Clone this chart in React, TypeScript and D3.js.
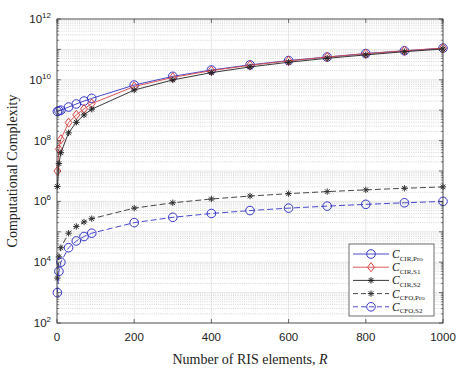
import React from "react";
import * as d3 from "d3";

// RIS elements
const R = [1, 5, 10, 30, 50, 70, 90, 200, 300, 400, 500, 600, 700, 800, 900, 1000];

// complexities
const cirPro = [9.1e8, 9.6e8, 1.0e9, 1.27e9, 1.6e9, 2.0e9, 2.45e9, 6.7e9, 1.3e10, 2.1e10, 3.1e10, 4.3e10, 5.6e10, 7.3e10, 9.0e10, 1.1e11];
const cirS1 = [1.0e7, 5.2e7, 1.1e8, 3.9e8, 7.0e8, 1.1e9, 1.65e9, 6.0e9, 1.2e10, 2.0e10, 3.0e10, 4.2e10, 5.6e10, 7.2e10, 9.0e10, 1.1e11];
const cirS2 = [3.1e6, 1.75e7, 4.0e7, 1.8e8, 4.0e8, 7.0e8, 1.08e9, 4.6e9, 9.9e9, 1.72e10, 2.65e10, 3.78e10, 5.1e10, 6.6e10, 8.4e10, 1.03e11];
const cfoPro = [3e3, 1.5e4, 3e4, 9e4, 1.5e5, 2.1e5, 2.7e5, 6e5, 9e5, 1.2e6, 1.5e6, 1.8e6, 2.1e6, 2.4e6, 2.7e6, 3e6];
const cfoS2 = [1e3, 5e3, 1e4, 3e4, 5e4, 7e4, 9e4, 2e5, 3e5, 4e5, 5e5, 6e5, 7e5, 8e5, 9e5, 1e6];

const xTicks = [0, 200, 400, 600, 800, 1000];
const yExps = [2, 4, 6, 8, 10, 12];

const series = [
  { sub: "CIR,Pro", data: cirPro, color: "#3535c8", marker: "circle", dash: null },
  { sub: "CIR,S1", data: cirS1, color: "#d84848", marker: "diamond", dash: null },
  { sub: "CIR,S2", data: cirS2, color: "#222222", marker: "star", dash: null },
  { sub: "CFO,Pro", data: cfoPro, color: "#333333", marker: "star", dash: "6,3" },
  { sub: "CFO,S2", data: cfoS2, color: "#3535c8", marker: "circle", dash: "6,3" },
];

const W = 474, H = 373;
const left = 57, right = 443, top = 19, bottom = 323;

function Marker({ type, x, y, color }: { type: string; x: number; y: number; color: string }) {
  if (type === "circle") return <circle cx={x} cy={y} r={4.3} fill="none" stroke={color} strokeWidth={1} />;
  if (type === "diamond") {
    const s = 4.6;
    return <path d={`M${x},${y - s}L${x + s * 0.75},${y}L${x},${y + s}L${x - s * 0.75},${y}Z`} fill="none" stroke={color} strokeWidth={1} />;
  }
  const s = 3.2, d = s * 0.72;
  return (
    <path
      d={`M${x - s},${y}H${x + s}M${x},${y - s}V${y + s}M${x - d},${y - d}L${x + d},${y + d}M${x - d},${y + d}L${x + d},${y - d}`}
      stroke={color}
      strokeWidth={1}
    />
  );
}

export default function App() {
  const x = d3.scaleLinear().domain([0, 1000]).range([left, right]);
  const y = d3.scaleLog().domain([1e2, 1e12]).range([bottom, top]);

  const minor: number[] = [];
  for (let e = 2; e < 12; e++) for (let k = 2; k <= 9; k++) minor.push(k * Math.pow(10, e));
  const majors = d3.range(2, 13).map((e) => Math.pow(10, e));

  const line = d3
    .line<[number, number]>()
    .x((d) => x(d[0]))
    .y((d) => y(d[1]));

  const lgX = 349, lgY = 244, lgW = 85, lgH = 72;

  return (
    <svg width={W} height={H} style={{ position: "absolute", left: 0, top: 0, background: "#fff" }}>
      {/* grid */}
      {minor.map((v, i) => (
        <line key={"mg" + i} x1={left} x2={right} y1={y(v)} y2={y(v)} stroke="#b8b8b8" strokeWidth={0.6} strokeDasharray="1,1.2" />
      ))}
      {majors.map((v, i) => (
        <line key={"Mg" + i} x1={left} x2={right} y1={y(v)} y2={y(v)} stroke="#dcdcdc" strokeWidth={0.7} />
      ))}
      {xTicks.map((t) => (
        <line key={"xg" + t} x1={x(t)} x2={x(t)} y1={top} y2={bottom} stroke="#dcdcdc" strokeWidth={0.7} />
      ))}

      {/* series */}
      {series.map((s) => {
        const pts = R.map((r, i) => [r, s.data[i]] as [number, number]);
        return (
          <g key={s.sub}>
            <path d={line(pts) || ""} fill="none" stroke={s.color} strokeWidth={0.9} strokeDasharray={s.dash || undefined} />
            {pts.map((p, i) => (
              <Marker key={i} type={s.marker} x={x(p[0])} y={y(p[1])} color={s.color} />
            ))}
          </g>
        );
      })}

      {/* box and ticks */}
      <rect x={left} y={top} width={right - left} height={bottom - top} fill="none" stroke="#333" strokeWidth={0.8} />
      {majors.map((v, i) => (
        <g key={"yt" + i}>
          <line x1={left} x2={left + 4} y1={y(v)} y2={y(v)} stroke="#333" strokeWidth={0.7} />
          <line x1={right} x2={right - 4} y1={y(v)} y2={y(v)} stroke="#333" strokeWidth={0.7} />
        </g>
      ))}
      {minor.map((v, i) => (
        <g key={"ymt" + i}>
          <line x1={left} x2={left + 2} y1={y(v)} y2={y(v)} stroke="#333" strokeWidth={0.6} />
          <line x1={right} x2={right - 2} y1={y(v)} y2={y(v)} stroke="#333" strokeWidth={0.6} />
        </g>
      ))}
      {xTicks.map((t) => (
        <g key={"xt" + t}>
          <line x1={x(t)} x2={x(t)} y1={bottom} y2={bottom - 4} stroke="#333" strokeWidth={0.7} />
          <line x1={x(t)} x2={x(t)} y1={top} y2={top + 4} stroke="#333" strokeWidth={0.7} />
        </g>
      ))}

      {/* tick labels */}
      {xTicks.map((t) => (
        <text key={"xl" + t} x={x(t)} y={bottom + 18} textAnchor="middle" fontFamily="Liberation Sans, Arial, sans-serif" fontSize={11.5} fill="#222">
          {t}
        </text>
      ))}
      {yExps.map((e) => (
        <text key={"yl" + e} x={left - 6} y={y(Math.pow(10, e)) + 4} textAnchor="end" fontFamily="Liberation Sans, Arial, sans-serif" fontSize={11.5} fill="#222">
          10
          <tspan fontSize={8} dy={-5}>
            {e}
          </tspan>
        </text>
      ))}

      {/* axis titles */}
      <text x={(left + right) / 2} y={364} textAnchor="middle" fontFamily="Liberation Serif, Times New Roman, serif" fontSize={14} fill="#222">
        Number of RIS elements, <tspan fontStyle="italic">R</tspan>
      </text>
      <text
        transform={`translate(17,${(top + bottom) / 2}) rotate(-90)`}
        textAnchor="middle"
        fontFamily="Liberation Serif, Times New Roman, serif"
        fontSize={14}
        fill="#222"
      >
        Computational Complexity
      </text>

      {/* legend */}
      <rect x={lgX} y={lgY} width={lgW} height={lgH} fill="#fff" stroke="#333" strokeWidth={0.7} />
      {series.map((s, i) => {
        const yy = lgY + 10 + i * 13.2;
        return (
          <g key={"lg" + s.sub}>
            <line x1={lgX + 4} x2={lgX + 40} y1={yy} y2={yy} stroke={s.color} strokeWidth={0.9} strokeDasharray={s.dash ? "5,3" : undefined} />
            <Marker type={s.marker} x={lgX + 22} y={yy} color={s.color} />
            <text x={lgX + 43} y={yy + 4} fontFamily="Liberation Serif, Times New Roman, serif" fontSize={11.5} fill="#222">
              <tspan fontStyle="italic">C</tspan>
              <tspan fontSize={7} dy={2.5}>
                {s.sub}
              </tspan>
            </text>
          </g>
        );
      })}
    </svg>
  );
}
